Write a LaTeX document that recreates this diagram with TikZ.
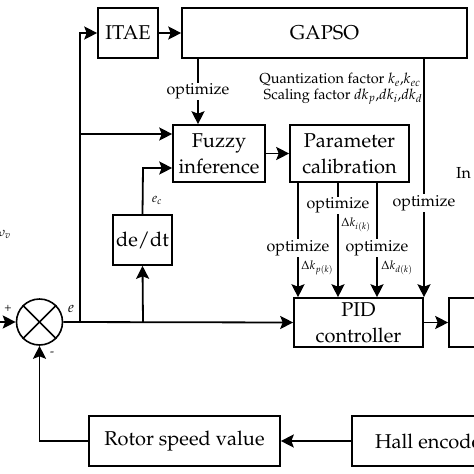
\documentclass[tikz,border=0pt]{standalone}
\usepackage[T1]{fontenc}
\usepackage{mathpazo}
\usetikzlibrary{arrows.meta}
\begin{document}
\begin{tikzpicture}[x=1pt,y=-1pt,
  box/.style={draw,line width=1.6pt,inner sep=0pt,align=center,font=\fontsize{20}{26}\selectfont},
  arr/.style={line width=1.8pt,-{Stealth[length=13pt,width=13pt,inset=2.5pt]}},
  ln/.style={line width=1.6pt},
  lab/.style={font=\fontsize{16}{18}\selectfont,inner sep=1pt,fill=white},
  small/.style={font=\fontsize{12}{14}\selectfont,inner sep=0pt}]
\clip (0,0) rectangle (474,474);
\fill[white] (0,0) rectangle (474,474);
% boxes
\node[box,minimum width=60pt,minimum height=50pt] (itae) at (128,33) {ITAE};
\node[box,minimum width=285pt,minimum height=50pt] (gapso) at (324.5,33) {GAPSO};
\node[box,minimum width=92pt,minimum height=57pt] (fuzzy) at (219,153.5) {Fuzzy\\inference};
\node[box,minimum width=119pt,minimum height=57pt] (param) at (349.5,153.5) {Parameter\\calibration};
\node[box,minimum width=59pt,minimum height=50pt] (dedt) at (142.5,240) {de/dt};
\node[draw,circle,line width=1.6pt,minimum size=46pt,inner sep=0pt] (sum) at (39.5,322) {};
\draw[ln] (sum.north west) -- (sum.south east);
\draw[ln] (sum.north east) -- (sum.south west);
\node[box,minimum width=129pt,minimum height=49pt] (pid) at (358.5,322.5) {PID\\controller};
\node[box,minimum width=80pt,minimum height=49pt] (drv) at (489,322.5) {};
\node[box,minimum width=191pt,minimum height=50pt] (rotor) at (184.5,441) {Rotor speed value};
\node[box,minimum width=160pt,minimum height=50pt] (hall) at (432,441) {Hall encoder};
% coordinates
\coordinate (in) at (0,322);
\coordinate (j1) at (80,322);
\coordinate (j2) at (143,322);
\coordinate (j3) at (80,134);
\coordinate (d1) at (143,168);
\coordinate (o1) at (198,0);
\coordinate (o2) at (424,0);
\coordinate (p1) at (298,0);
\coordinate (p2) at (338,0);
\coordinate (p3) at (377,0);
% connectors
\draw[arr] (in) -- (sum.west);
\draw[arr] (sum.east) -- (pid.west);
\draw[arr] (j1) |- (itae.west);
\draw[arr] (j3) -- (fuzzy.west |- j3);
\draw[arr] (j2) -- (dedt.south);
\draw[arr] (dedt.north) -- (d1) -- (fuzzy.west |- d1);
\draw[arr] (itae.east) -- (gapso.west);
\draw[arr] (gapso.south -| o1) -- (fuzzy.north -| o1) node[midway,lab] (opt0) {optimize};
\draw[arr] (fuzzy.east) -- (param.west);
\draw[arr] (gapso.south -| o2) -- (pid.north -| o2) node[pos=0.604,lab] (opt4) {optimize};
\draw[arr] (param.south -| p1) -- (pid.north -| p1) node[pos=0.569,lab] (opt1) {optimize};
\draw[arr] (param.south -| p2) -- (pid.north -| p2) node[pos=0.198,lab] (opt2) {optimize};
\draw[arr] (param.south -| p3) -- (pid.north -| p3) node[pos=0.569,lab] (opt3) {optimize};
\draw[arr] (pid.east) -- (drv.west);
\draw[arr] (hall.west) -- (rotor.east);
\draw[arr] (rotor.west) -| (sum.south);
% labels
\node[small,anchor=west] (dkp) at (301,268) {$\Delta k_{p(k)}$};
\node[small,anchor=west] (dki) at (341,225) {$\Delta k_{i(k)}$};
\node[small,anchor=west] (dkd) at (381,268) {$\Delta k_{d(k)}$};
\node[font=\fontsize{14.5}{16}\selectfont,inner sep=0pt] (qf) at (340,80) {Quantization factor $k_e$,$k_{ec}$};
\node[font=\fontsize{14.5}{16}\selectfont,inner sep=0pt] (sf) at (343,97) {Scaling factor $dk_p$,$dk_i$,$dk_d$};
\node[font=\fontsize{12}{12}\selectfont,inner sep=0pt] (plus) at (8,308) {+};
\node[font=\fontsize{12}{12}\selectfont,inner sep=0pt] (minus) at (52,354) {-};
\node[font=\fontsize{15}{15}\selectfont,inner sep=0pt] (elab) at (71,309) {$e$};
\node[font=\fontsize{13}{13}\selectfont,inner sep=0pt] (eclab) at (157,200) {$e_c$};
\node[font=\fontsize{16}{16}\selectfont,inner sep=0pt,anchor=west] (inlab) at (456,173) {In};
\node[font=\fontsize{13}{13}\selectfont,inner sep=0pt,anchor=east] (frag) at (11,234) {$\omega_v$};
\end{tikzpicture}
\end{document}
